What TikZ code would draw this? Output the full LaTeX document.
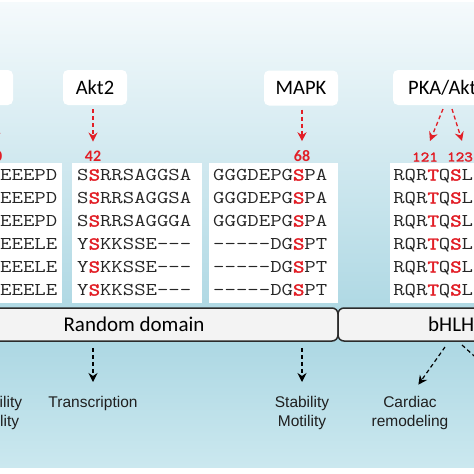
\documentclass[tikz,border=0pt]{standalone}
\usepackage{fontspec}
\setmainfont{Liberation Sans}
\newfontfamily\calib{Carlito}
\newfontfamily\monob{Latin Modern Mono}[FakeBold=2.2]
\usetikzlibrary{arrows.meta}
\definecolor{seqred}{RGB}{226,30,38}
\definecolor{bgtop}{HTML}{F5FAFC}
\definecolor{bgmid}{HTML}{AAD6E2}
\definecolor{bgbot}{HTML}{CBE8EF}
\definecolor{barfill}{HTML}{F3F3F3}
\definecolor{barline}{HTML}{2B2B2B}
\newcommand\rl[1]{{\monob\color{seqred}#1}}
\newcommand\dsh{-\kern0pt}
\tikzset{
  kbox/.style={fill=white, rounded corners=5pt, draw=none, minimum height=35pt, inner sep=0pt,
    font=\calib\fontsize{20.5}{24}\selectfont},
  seqbox/.style={fill=white, draw=none, minimum height=140pt, inner sep=0pt},
  seqrow/.style={inner sep=0pt, font=\ttfamily\fontsize{18}{23}\selectfont, text=black!85,
    xscale=1.23, transform shape},
  numlab/.style={inner sep=0pt, text=seqred, font=\calib\bfseries\fontsize{16}{18}\selectfont},
  numlabm/.style={inner sep=0pt, text=seqred, font=\monob\fontsize{14.5}{18}\selectfont,
    xscale=1.15, transform shape},
  redarrow/.style={draw=seqred, line width=1.3pt, dash pattern=on 4pt off 3pt,
    -{Stealth[length=9pt,width=9pt,inset=3pt]}},
  blkarrow/.style={draw=black, line width=1.2pt, dash pattern=on 4pt off 3pt,
    -{Stealth[length=9pt,width=9pt,inset=3pt]}},
  dombox/.style={fill=barfill, draw=barline, line width=1.5pt, rounded corners=6pt,
    minimum height=33pt, inner sep=0pt},
  domlab/.style={inner sep=0pt, font=\calib\fontsize{21}{25}\selectfont},
  funclab/.style={inner sep=0pt, align=center, anchor=north, text=black!88,
    font=\fontsize{15.5}{19}\selectfont},
}
\begin{document}
\begin{tikzpicture}[x=1pt,y=-1pt]
\useasboundingbox (0,0) rectangle (474,474);
\clip (0,0) rectangle (474,474);
\fill[white] (0,0) rectangle (474,474);
\shade[top color=bgtop, bottom color=bgmid] (0,2) rectangle (474,330.5);
\shade[top color=bgmid, bottom color=bgbot] (0,330) rectangle (474,467);

% kinase boxes
\node[kbox, minimum width=76pt] (lk) at (-25,87.5) {};
\node[kbox, minimum width=64pt] (akt2) at (95,87.5) {Akt2};
\node[kbox, minimum width=74pt] (mapk) at (301,88) {MAPK};
\node[kbox, minimum width=120pt] (pka) at (453,87.5) {};
\node[inner sep=0pt, anchor=west, font=\calib\fontsize{20.5}{24}\selectfont] (pkal) at (408,88) {PKA/Akt};

% site numbers
\node[numlab] (n30) at (-6,156) {30};
\node[numlab] (n42) at (93,156) {42};
\node[numlab] (n68) at (302,156) {68};
\node[numlabm] (n121) at (425,157) {121};
\node[numlabm] (n123) at (460,157) {123};

% red arrows
\coordinate (lkA) at (-2,109);
\coordinate (pkaA) at (443,109);
\coordinate (pkaB) at (452,109);
\draw[redarrow, shorten >=9pt] (lkA) -- (n30);
\draw[redarrow, shorten <=4pt, shorten >=9pt] (akt2.south -| n42) -- (n42);
\draw[redarrow, shorten <=4pt, shorten >=9pt] (mapk.south -| n68) -- (n68);
\coordinate (t121) at (430,141);
\coordinate (t123) at (462,141);
\draw[redarrow] (pkaA) -- (t121);
\draw[redarrow] (pkaB) -- (t123);

% sequence boxes
\node[seqbox, minimum width=82pt] (sb1) at (21,233) {};
\node[seqbox, minimum width=130pt] (sb2) at (137,233) {};
\node[seqbox, minimum width=129pt] (sb3) at (273.5,233) {};
\node[seqbox, minimum width=130pt] (sb4) at (455,233) {};

% box 1 rows
\foreach \t [count=\i] in {EEEEEPD,EEEEEPD,EEEEEPD,EEEEELE,EEEEELE,EEEEELE}
  \node[seqrow, anchor=base east] (ra\i) at (57.5,157.5+23*\i) {\t};
% box 2 rows
\node[seqrow, anchor=base west] (rb1) at (77,180.5) {S\rl{S}RRSAGGSA};
\node[seqrow, anchor=base west] (rb2) at (77,203.5) {S\rl{S}RRSAGGSA};
\node[seqrow, anchor=base west] (rb3) at (77,226.5) {S\rl{S}RRSAGGGA};
\node[seqrow, anchor=base west] (rb4) at (77,249.5) {Y\rl{S}KKSSE\dsh\dsh\dsh};
\node[seqrow, anchor=base west] (rb5) at (77,272.5) {Y\rl{S}KKSSE\dsh\dsh\dsh};
\node[seqrow, anchor=base west] (rb6) at (77,295.5) {Y\rl{S}KKSSE\dsh\dsh\dsh};
% box 3 rows
\node[seqrow, anchor=base west] (rc1) at (213,180.5) {GGGDEPG\rl{S}PA};
\node[seqrow, anchor=base west] (rc2) at (213,203.5) {GGGDEPG\rl{S}PA};
\node[seqrow, anchor=base west] (rc3) at (213,226.5) {GGGDEPG\rl{S}PA};
\node[seqrow, anchor=base west] (rc4) at (213,249.5) {\dsh\dsh\dsh\dsh\dsh DG\rl{S}PT};
\node[seqrow, anchor=base west] (rc5) at (213,272.5) {\dsh\dsh\dsh\dsh\dsh DG\rl{S}PT};
\node[seqrow, anchor=base west] (rc6) at (213,295.5) {\dsh\dsh\dsh\dsh\dsh DG\rl{S}PT};
% box 4 rows
\foreach \i in {1,...,6}
  \node[seqrow, anchor=base west] (rd\i) at (393,157.5+23*\i) {RQR\rl{T}Q\rl{S}L};

% domain bar
\node[dombox, minimum width=368pt] (rand) at (154,324.5) {};
\node[dombox, minimum width=160pt] (bhlh) at (418,324.5) {};
\node[domlab] (randl) at (134,324.5) {Random domain};
\node[domlab, anchor=west] (bhlhl) at (428,324.5) {bHLH};

% function labels
\node[funclab] (stabL) at (-5,396.5) {Stability\\Motility};
\node[funclab] (trans) at (93,396.5) {Transcription};
\node[funclab] (stab) at (302,396.5) {Stability\\Motility};
\node[funclab] (card) at (410,396.5) {Cardiac\\remodeling};

% black arrows
\draw[blkarrow, shorten <=6pt, shorten >=14.5pt] (rand.south -| trans) -- (trans);
\draw[blkarrow, shorten <=6pt, shorten >=14.5pt] (rand.south -| stab) -- (stab);
\coordinate (bA) at (445,347);
\coordinate (bB) at (462,345);
\coordinate (offR) at (492,372);
\draw[blkarrow, shorten >=14.5pt] (bA) -- (card.north);
\draw[blkarrow] (bB) -- (offR);
\end{tikzpicture}
\end{document}
